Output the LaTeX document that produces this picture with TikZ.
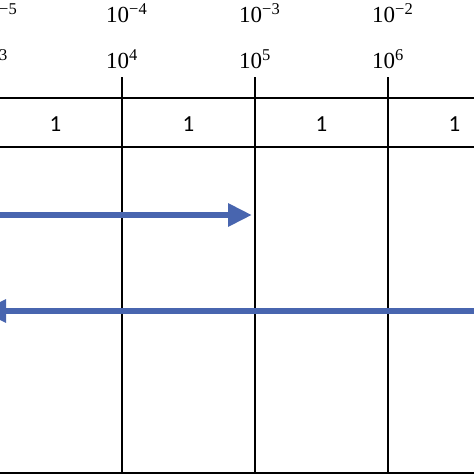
\documentclass[tikz,border=0pt]{standalone}
\usepackage{fontspec}
\setmainfont{Liberation Serif}
\newfontfamily\cellfont{Carlito}
\usetikzlibrary{arrows.meta}
\definecolor{flowblue}{RGB}{72,101,175}
\newcommand\tenpow[1]{10\raisebox{7.5pt}{\fontsize{16.5pt}{16.5pt}\selectfont #1}}
\tikzset{
    gridline/.style={line width=2.4pt, black},
    flow/.style={line width=6pt, flowblue, -{Triangle[length=24pt, width=22pt]}},
    powlabel/.style={anchor=base west, inner sep=0pt, font=\fontsize{23pt}{25pt}\selectfont},
    cell/.style={inner sep=0pt, font=\cellfont\fontsize{23pt}{25pt}\selectfont}
}

\begin{document}
\begin{tikzpicture}[x=1pt, y=-1pt]
    \useasboundingbox (0,0) rectangle (474,474);
    \clip (0,0) rectangle (474,474);
    % rows
    \coordinate (r1l) at (-10,98);
    \coordinate (r1r) at (484,98);
    \coordinate (r2l) at (-10,147);
    \coordinate (r2r) at (484,147);
    \coordinate (r3l) at (-10,473);
    \coordinate (r3r) at (484,473);
    \draw[gridline] (r1l) -- (r1r);
    \draw[gridline] (r2l) -- (r2r);
    \draw[gridline] (r3l) -- (r3r);
    % decades
    \foreach \x/\lx/\k/\m [count=\i] in {-11/-24/5/3, 122/106/4/4, 255/239/3/5, 388/372/2/6}{
        \coordinate (t\i) at (\x,77);
        \coordinate (b\i) at (\x,484);
        \draw[gridline] (t\i) -- (b\i);
        \node[powlabel] (e\i) at (\lx,22) {\tenpow{−\k}};
        \node[powlabel] (f\i) at (\lx,68) {\tenpow{\m}};
        \node[cell] (c\i) at (\x+66.5,124) {1};
    }
    % arrows
    \coordinate (a1s) at (-20,215);
    \coordinate (a1e) at (252,215);
    \coordinate (a2s) at (490,311);
    \coordinate (a2e) at (-18,311);
    \draw[flow] (a1s) -- (a1e);
    \draw[flow] (a2s) -- (a2e);
\end{tikzpicture}
\end{document}
